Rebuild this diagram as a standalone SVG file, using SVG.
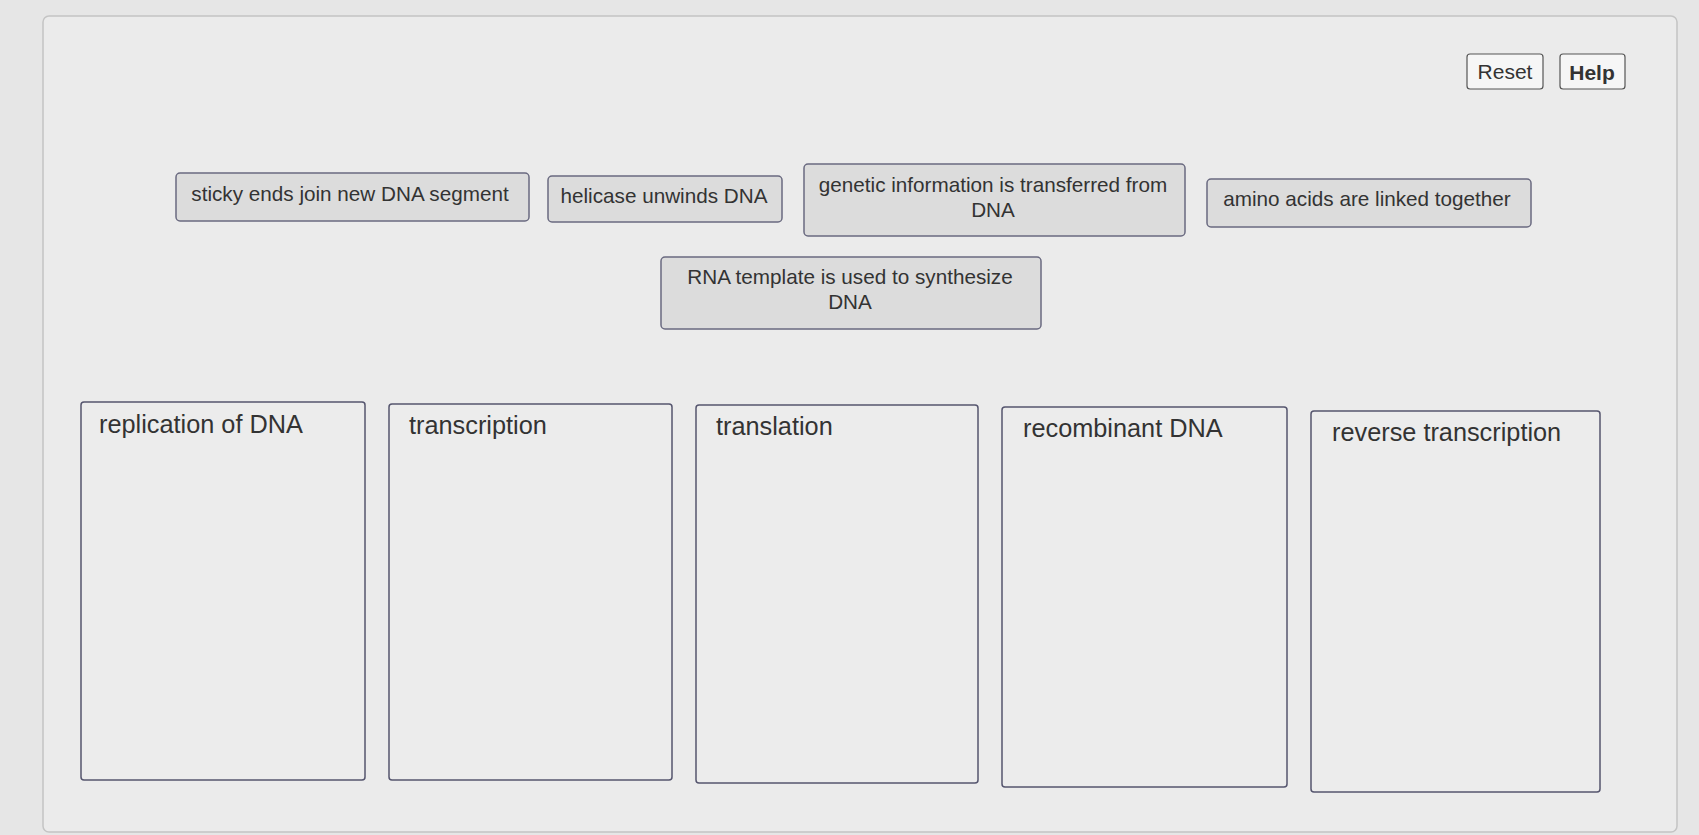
<svg xmlns="http://www.w3.org/2000/svg" width="1699" height="835" viewBox="0 0 1699 835">
<style>
text{font-family:"Liberation Sans",Arial,sans-serif;fill:#333}
.chip rect{fill:#dcdcdc;stroke:#6a6a80;stroke-width:1.5}
.chip text{font-size:20.7px;text-anchor:middle}
.bin rect{fill:#ececec;stroke:#55556e;stroke-width:1.5}
.bin text{font-size:25.3px}
.btn rect{fill:#f6f6f6;stroke:#555;stroke-width:1.2}
.btn text{font-size:21px;text-anchor:middle}
</style>
<rect width="1699" height="835" fill="#e6e6e6"/>
<rect x="43" y="16" width="1634" height="816" rx="6" fill="#ebebeb" stroke="#c4c4c4" stroke-width="1.5"/>
<g id="reset" class="btn"><rect x="1467" y="54" width="76" height="35" rx="3"/><text x="1505" y="79">Reset</text></g>
<g id="help" class="btn"><rect x="1560" y="54" width="65" height="35" rx="3"/><text x="1592" y="80" font-weight="bold">Help</text></g>
<g id="chip1" class="chip"><rect x="176" y="173" width="353" height="48" rx="4"/><text x="350" y="201">sticky ends join new DNA segment</text></g>
<g id="chip2" class="chip"><rect x="548" y="176" width="234" height="46" rx="4"/><text x="664" y="203">helicase unwinds DNA</text></g>
<g id="chip3" class="chip"><rect x="804" y="164" width="381" height="72" rx="4"/><text x="993" y="192">genetic information is transferred from</text><text x="993" y="217">DNA</text></g>
<g id="chip4" class="chip"><rect x="1207" y="179" width="324" height="48" rx="4"/><text x="1367" y="206">amino acids are linked together</text></g>
<g id="chip5" class="chip"><rect x="661" y="257" width="380" height="72" rx="4"/><text x="850" y="284">RNA template is used to synthesize</text><text x="850" y="309">DNA</text></g>
<g id="bin1" class="bin"><rect x="81" y="402" width="284" height="378" rx="3"/><text x="99" y="433">replication of DNA</text></g>
<g id="bin2" class="bin"><rect x="389" y="404" width="283" height="376" rx="3"/><text x="409" y="434">transcription</text></g>
<g id="bin3" class="bin"><rect x="696" y="405" width="282" height="378" rx="3"/><text x="716" y="435">translation</text></g>
<g id="bin4" class="bin"><rect x="1002" y="407" width="285" height="380" rx="3"/><text x="1023" y="437">recombinant DNA</text></g>
<g id="bin5" class="bin"><rect x="1311" y="411" width="289" height="381" rx="3"/><text x="1332" y="441">reverse transcription</text></g>
<g id="connectors"/>
</svg>
